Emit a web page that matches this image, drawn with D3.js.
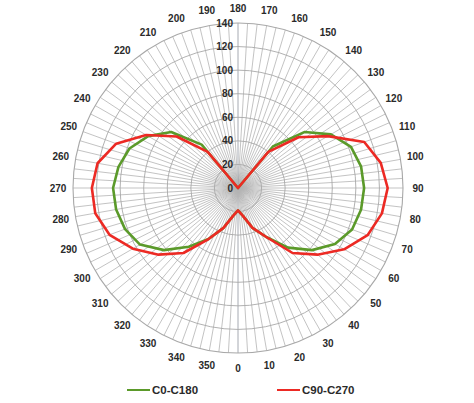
<!DOCTYPE html>
<html>
<head>
<meta charset="utf-8">
<script src="https://cdnjs.cloudflare.com/ajax/libs/d3/7.8.5/d3.min.js"></script>
<style>
    body { margin: 0; background: #ffffff; }
    text { font-family: "Liberation Sans", Arial, sans-serif; }
</style>
</head>
<body>
<svg id="chartSVG" width="474" height="403"></svg>
<script>
/**
 * Angles (degrees) at which the intensity was read.
 */
const angles = [0, 10, 20, 30, 40, 50, 60, 70, 80, 90, 100, 110, 120, 130, 140, 150, 160, 170,
                180, 190, 200, 210, 220, 230, 240, 250, 260, 270, 280, 290, 300, 310, 320, 330, 340, 350];

/**
 * C0-C180 plane values, one per angle.
 */
const c0c180 = [19, 24, 36, 48, 66, 82, 95, 103, 106, 107, 106, 102, 91, 74, 46, 0, 0, 0,
                0, 0, 0, 0, 48, 74, 88, 98, 103, 106, 105, 102, 96, 82, 65, 50, 36, 24];

/**
 * C90-C270 plane values, one per angle.
 */
const c90c270 = [19, 24, 36, 48, 72, 88, 104, 117, 124, 127, 123, 114, 88, 67, 40, 0, 0, 0,
                 0, 0, 0, 0, 40, 68, 90, 110, 121, 124, 123, 116, 103, 88, 72, 50, 36, 24];

const radialTicks = [0, 20, 40, 60, 80, 100, 120, 140];
const angleTicks = [0, 10, 20, 30, 40, 50, 60, 70, 80, 90, 100, 110, 120, 130, 140, 150, 160, 170,
                    180, 190, 200, 210, 220, 230, 240, 250, 260, 270, 280, 290, 300, 310, 320, 330, 340, 350];
const seriesNames = ["C0-C180", "C90-C270"];
const seriesColours = ["#5b9a2a", "#ec2a24"];

const cx = 238, cy = 188;
const outerRadius = 165;
const labelRadius = 180;

var svg = d3.select("#chartSVG");

// 0 at the bottom, going round counter clockwise (90 on the right)
var angleScale = d3.scaleLinear()
                .domain([0, 360])
                .range([Math.PI, -Math.PI]);
var radiusScale = d3.scaleLinear()
                .domain([0, 140])
                .range([0, outerRadius]);

var pointAt = function(deg, r) {
    var a = angleScale(deg);
    return [cx + r * Math.sin(a), cy - r * Math.cos(a)];
};

var grid = svg.append("g").attr("id", "grid");

// spokes, three between every labelled angle
var spokes = d3.range(0, 108).map(i => i * 10 / 3);
spokes.forEach(deg => {
    var p = pointAt(deg, outerRadius);
    grid.append("line")
        .attr("x1", cx).attr("y1", cy)
        .attr("x2", p[0]).attr("y2", p[1])
        .attr("stroke", deg % 180 === 0 ? "#8f95a0" : "#b4b4b4")
        .attr("stroke-width", 0.8);
});

radialTicks.slice(1).forEach(t => {
    grid.append("circle")
        .attr("cx", cx).attr("cy", cy)
        .attr("r", radiusScale(t))
        .attr("fill", "none")
        .attr("stroke", "#a8a8a8")
        .attr("stroke-width", t === 140 ? 1.1 : 0.9);
});

// value labels up the vertical axis
svg.append("g").selectAll("text")
    .data(radialTicks)
    .join("text")
        .attr("x", cx - 5)
        .attr("y", d => cy - radiusScale(d))
        .attr("dy", "0.35em")
        .attr("text-anchor", "end")
        .attr("font-size", 10)
        .attr("font-weight", "bold")
        .attr("fill", "#2a2a2a")
        .text(d => d);

// angle labels round the outside
svg.append("g").selectAll("text")
    .data(angleTicks)
    .join("text")
        .attr("x", d => pointAt(d, labelRadius)[0])
        .attr("y", d => pointAt(d, labelRadius)[1])
        .attr("dy", "0.35em")
        .attr("text-anchor", "middle")
        .attr("font-size", 10)
        .attr("font-weight", "bold")
        .attr("fill", "#2a2a2a")
        .text(d => d);

var radialLine = d3.lineRadial()
                .angle(d => angleScale(d[0]))
                .radius(d => radiusScale(d[1]))
                .curve(d3.curveLinearClosed);

[c0c180, c90c270].forEach((values, i) => {
    svg.append("path")
        .datum(angles.map((a, j) => [a, values[j]]))
        .attr("transform", "translate(" + cx + "," + cy + ")")
        .attr("d", radialLine)
        .attr("fill", "none")
        .attr("stroke", seriesColours[i])
        .attr("stroke-width", 2.6)
        .attr("stroke-linejoin", "round");
});

// legend
var legendX = [127, 277];
seriesNames.forEach((name, i) => {
    var g = svg.append("g").attr("transform", "translate(" + legendX[i] + ",390)");
    g.append("line")
        .attr("x1", 0).attr("x2", 23)
        .attr("y1", 0).attr("y2", 0)
        .attr("stroke", seriesColours[i])
        .attr("stroke-width", 2);
    g.append("text")
        .attr("x", 25)
        .attr("dy", "0.35em")
        .attr("font-size", 11.5)
        .attr("font-weight", "bold")
        .attr("fill", "#2a2a2a")
        .text(name);
});
</script>
</body>
</html>
